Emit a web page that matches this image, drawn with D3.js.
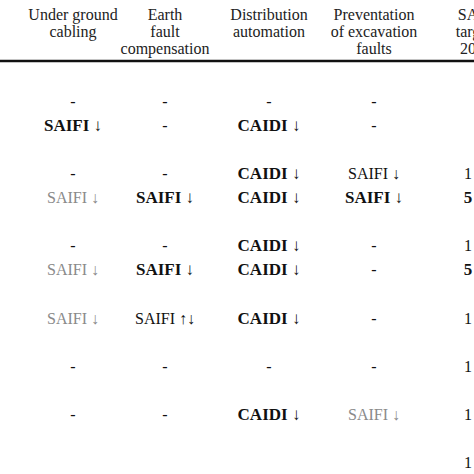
<!DOCTYPE html>
<html><head><meta charset="utf-8">
<script src="https://cdn.jsdelivr.net/npm/d3@7"></script>
<style>body{margin:0;background:#fff}</style></head>
<body><div id="chart"></div>
<script>
// column headers (each line of the header)
var headers = [
  ["Under ground", "cabling"],
  ["Earth", "fault", "compensation"],
  ["Distribution", "automation"],
  ["Preventation", "of excavation", "faults"],
  ["SA", "targ", "20"]
];
// row slot (vertical position index) and cells: [text, style] b=bold, g=gray, n=normal
var rowSlots = [0, 1, 3, 4, 6, 7, 9, 11, 13, 15];
var rows = [
  [["-","n"],["-","n"],["-","n"],["-","n"],["",""]],
  [["SAIFI ↓","b"],["-","n"],["CAIDI ↓","b"],["-","n"],["",""]],
  [["-","n"],["-","n"],["CAIDI ↓","b"],["SAIFI ↓","n"],["1","n"]],
  [["SAIFI ↓","g"],["SAIFI ↓","b"],["CAIDI ↓","b"],["SAIFI ↓","b"],["5","b"]],
  [["-","n"],["-","n"],["CAIDI ↓","b"],["-","n"],["1","n"]],
  [["SAIFI ↓","g"],["SAIFI ↓","b"],["CAIDI ↓","b"],["-","n"],["5","b"]],
  [["SAIFI ↓","g"],["SAIFI ↑↓","n"],["CAIDI ↓","b"],["-","n"],["1","n"]],
  [["-","n"],["-","n"],["-","n"],["-","n"],["1","n"]],
  [["-","n"],["-","n"],["CAIDI ↓","b"],["SAIFI ↓","g"],["1","n"]],
  [["",""],["",""],["",""],["",""],["1","n"]]
];

var W = 474, H = 474;
var svg = d3.select("#chart").append("svg").attr("width", W).attr("height", H)
  .style("font-family", "'Liberation Serif', 'Times New Roman', serif").style("font-size", "16px");

var colX = [73, 165, 269, 374, 468];
var y = d3.scaleLinear().domain([0, 15]).range([101, 462]);

headers.forEach(function(h, i) {
  h.forEach(function(line, j) {
    svg.append("text").attr("x", colX[i]).attr("y", 20 + j * 17)
      .attr("text-anchor", "middle").attr("fill", "#222").text(line);
  });
});

svg.append("line").attr("x1", 0).attr("x2", W).attr("y1", 61).attr("y2", 61)
  .attr("stroke", "#111").attr("stroke-width", 2.5);

rows.forEach(function(r, i) {
  r.forEach(function(c, j) {
    if (!c[0]) return;
    svg.append("text").attr("x", colX[j]).attr("y", y(rowSlots[i]) + 6)
      .attr("text-anchor", "middle")
      .attr("font-weight", c[1] == "b" ? "bold" : "normal")
      .attr("fill", c[1] == "g" ? "#8a8a8a" : "#111")
      .style("font-size", c[1] == "b" ? "17px" : "16px")
      .text(c[0]);
  });
});
</script></body></html>
